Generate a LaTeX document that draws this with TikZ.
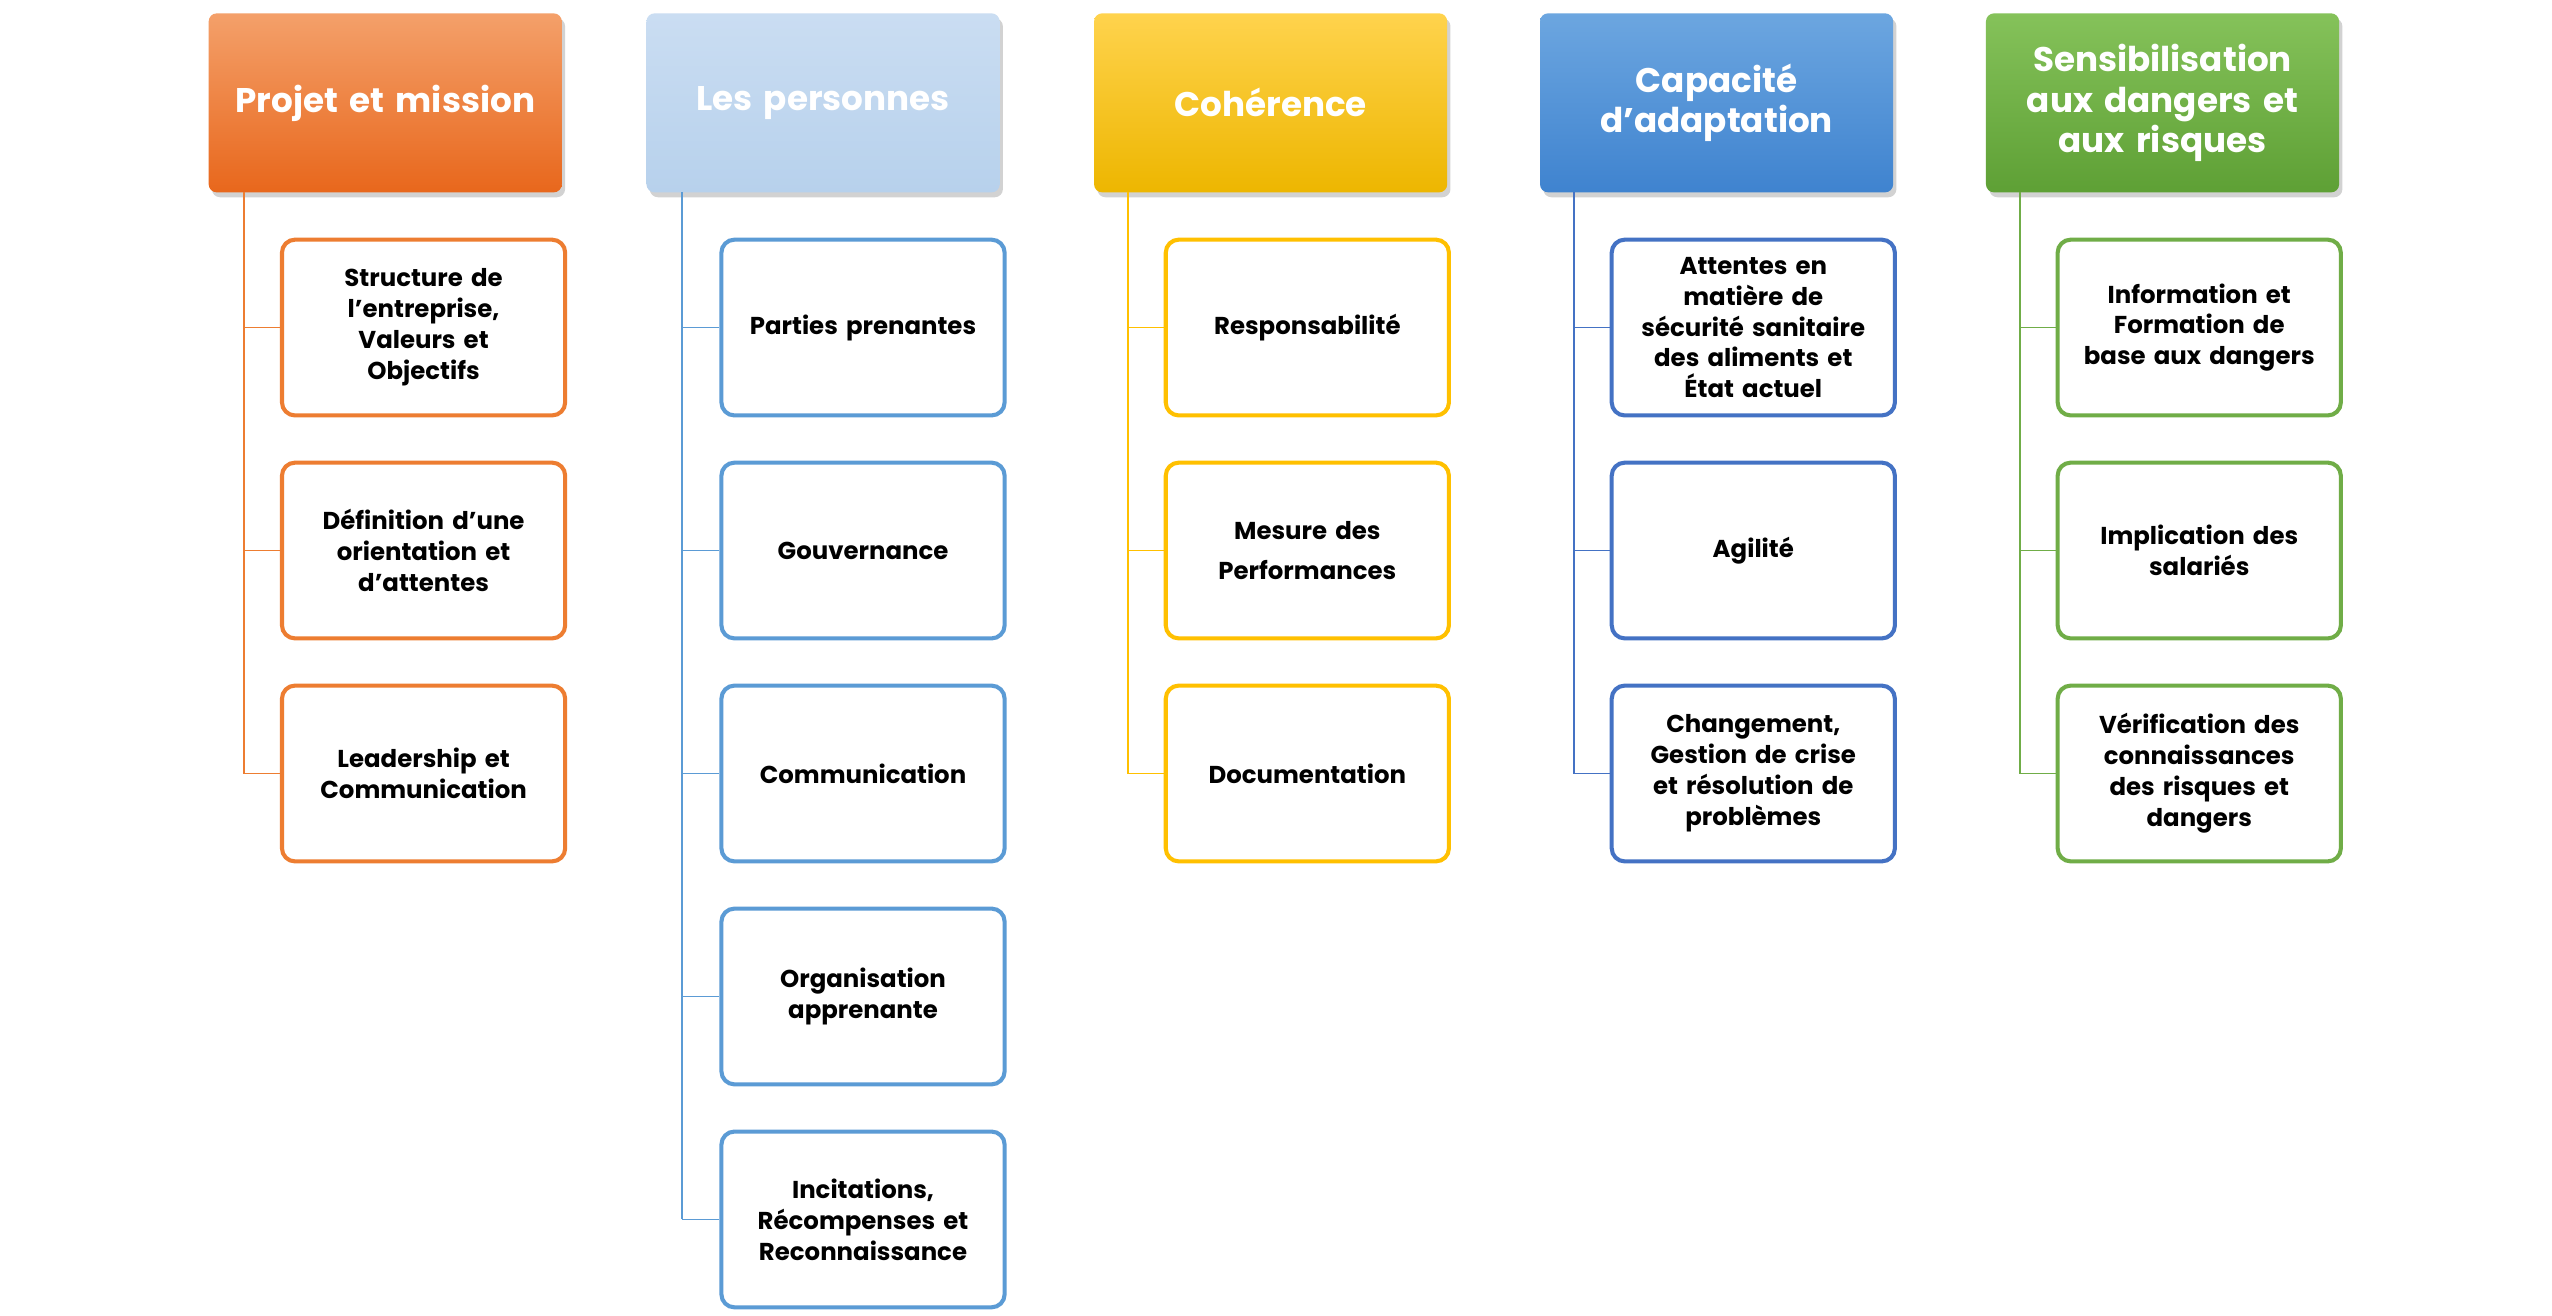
\documentclass[tikz,border=0pt]{standalone}
\usepackage{fontspec}
\setmainfont{Poppins}
\usetikzlibrary{shadows}
\definecolor{c1}{HTML}{ED7D31}\definecolor{c1a}{HTML}{F4A06A}\definecolor{c1b}{HTML}{E8671C}
\definecolor{c2}{HTML}{5B9BD5}\definecolor{c2a}{HTML}{CADDF2}\definecolor{c2b}{HTML}{B7D1EC}
\definecolor{c3}{HTML}{FFC000}\definecolor{c3a}{HTML}{FFD34D}\definecolor{c3b}{HTML}{EDB600}
\definecolor{c4}{HTML}{4472C4}\definecolor{c4a}{HTML}{6CA6E0}\definecolor{c4b}{HTML}{3F83CF}
\definecolor{c5}{HTML}{70AD47}\definecolor{c5a}{HTML}{85C25A}\definecolor{c5b}{HTML}{5EA035}
\newcommand\ap{\char39\relax}
\hyphenpenalty=10000
\begin{document}
\begin{tikzpicture}[x=1pt,y=-1pt,
 head/.style={rounded corners=5pt,minimum width=217pt,minimum height=110pt,anchor=north west,text=white,align=center,text width=205pt,font=\fontsize{21}{25}\selectfont\bfseries,drop shadow={shadow xshift=2pt,shadow yshift=-3pt,opacity=0.35}},
 child/.style={draw=#1,line width=2.5pt,rounded corners=8pt,fill=white,minimum width=174pt,minimum height=108pt,anchor=north west,align=center,text width=165pt,font=\fontsize{15}{19}\selectfont\bfseries},
 conn/.style={draw=#1,line width=1pt}]
\fill[white] (0,0) rectangle (1568,808);
\useasboundingbox (0,0) rectangle (1568,808);
\newcommand\hd[6]{\node[head,top color=#3,bottom color=#4] (h#1) at (#2,8) {#6};
 \coordinate (t#1) at (#5,118);}
\newcommand\kid[6]{% col, idx, color, x, y, text
 \node[child=#3] (b#1-#2) at (#4,#5) {#6};
 \coordinate (j#1-#2) at (t#1 |- b#1-#2.west);
 \draw[conn=#3] (j#1-#2) -- (b#1-#2.west);}
\hd{1}{128}{c1a}{c1b}{150}{Projet et mission}
\hd{2}{397}{c2a}{c2b}{419}{Les personnes}
\hd{3}{672}{c3a}{c3b}{693}{Cohérence}
\hd{4}{946}{c4a}{c4b}{967}{Capacité\\d\ap adaptation}
\hd{5}{1220}{c5a}{c5b}{1241}{Sensibilisation\\aux dangers et\\aux risques}
\kid{1}{0}{c1}{172}{146}{Structure de\\l\ap entreprise,\\Valeurs et\\Objectifs}
\kid{1}{1}{c1}{172}{283}{Définition d\ap une\\orientation et\\d\ap attentes}
\kid{1}{2}{c1}{172}{420}{Leadership et\\Communication}
\draw[conn=c1] (t1) -- (j1-2);
\kid{2}{0}{c2}{442}{146}{Parties prenantes}
\kid{2}{1}{c2}{442}{283}{Gouvernance}
\kid{2}{2}{c2}{442}{420}{Communication}
\kid{2}{3}{c2}{442}{557}{Organisation\\apprenante}
\kid{2}{4}{c2}{442}{694}{Incitations,\\Récompenses et\\Reconnaissance}
\draw[conn=c2] (t2) -- (j2-4);
\kid{3}{0}{c3}{715}{146}{Responsabilité}
\kid{3}{1}{c3}{715}{283}{Mesure des\\[6pt]Performances}
\kid{3}{2}{c3}{715}{420}{Documentation}
\draw[conn=c3] (t3) -- (j3-2);
\kid{4}{0}{c4}{989}{146}{Attentes en\\matière de\\sécurité sanitaire\\des aliments et\\État actuel}
\kid{4}{1}{c4}{989}{283}{Agilité}
\kid{4}{2}{c4}{989}{420}{Changement,\\Gestion de crise\\et résolution de\\problèmes}
\draw[conn=c4] (t4) -- (j4-2);
\kid{5}{0}{c5}{1263}{146}{Information et\\Formation de\\base aux dangers}
\kid{5}{1}{c5}{1263}{283}{Implication des\\salariés}
\kid{5}{2}{c5}{1263}{420}{Vérification des\\connaissances\\des risques et\\dangers}
\draw[conn=c5] (t5) -- (j5-2);
\end{tikzpicture}
\end{document}
